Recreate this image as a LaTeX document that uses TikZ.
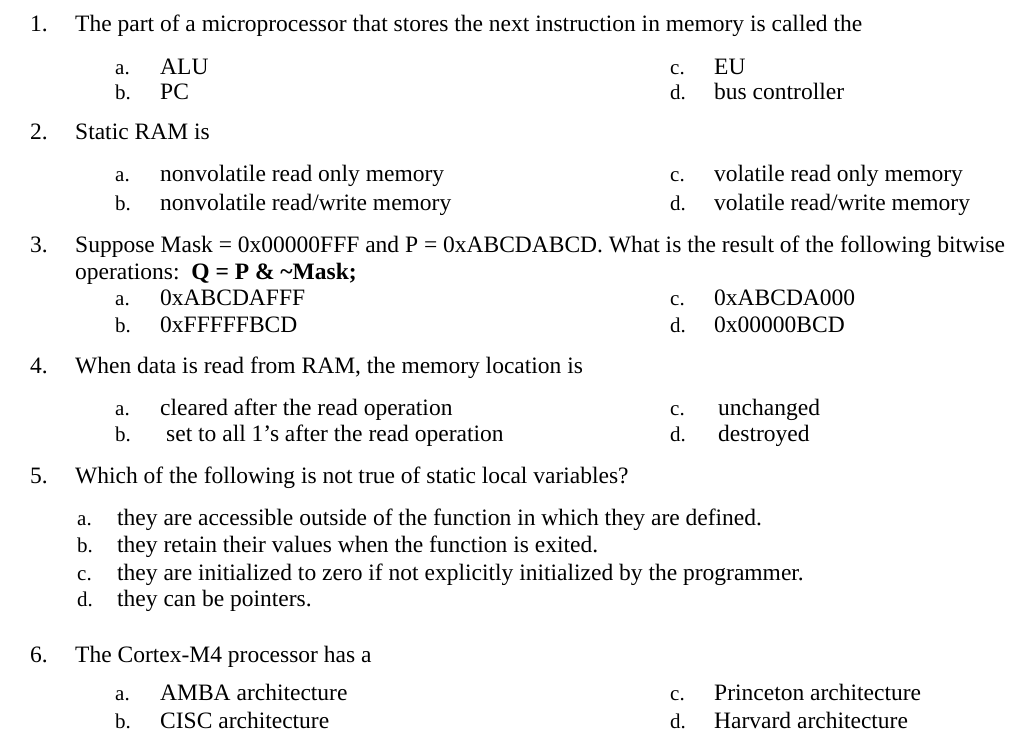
\documentclass[tikz,border=0pt]{standalone}
\usepackage{fontspec}
\setmainfont{Liberation Serif}
\begin{document}
\begin{tikzpicture}[x=1pt,y=-1pt,
 t/.style={anchor=base west,inner sep=0pt,font=\fontsize{23.5}{27}\selectfont},
 l/.style={t,font=\fontsize{21}{24}\selectfont}]
\useasboundingbox (0,0) rectangle (1032,746);
\fill[white] (0,0) rectangle (1032,746);
% Q1
\node[t] (n1) at (30,32) {1.};
\node[t] (q1) at (75,32) {The part of a microprocessor that stores the next instruction in memory is called the};
\node[l] (a1) at (115,75) {a.}; \node[t] (a1t) at (160,75) {ALU};
\node[l] (b1) at (115,100) {b.}; \node[t] (b1t) at (160,100) {PC};
\node[l] (c1) at (670,75) {c.}; \node[t] (c1t) at (714,75) {EU};
\node[l] (d1) at (670,100) {d.}; \node[t] (d1t) at (714,100) {bus controller};
% Q2
\node[t] (n2) at (30,140) {2.};
\node[t] (q2) at (75,140) {Static RAM is};
\node[l] (a2) at (115,182) {a.}; \node[t] (a2t) at (160,182) {nonvolatile read only memory};
\node[l] (b2) at (115,210) {b.}; \node[t] (b2t) at (160,210) {nonvolatile read/write memory};
\node[l] (c2) at (670,182) {c.}; \node[t] (c2t) at (714,182) {volatile read only memory};
\node[l] (d2) at (670,210) {d.}; \node[t] (d2t) at (714,210) {volatile read/write memory};
% Q3
\node[t] (n3) at (30,252) {3.};
\node[t] (q3) at (75,252) {Suppose Mask = 0x00000FFF and P = 0xABCDABCD. What is the result of the following bitwise};
\node[t] (q3b) at (75,279) {operations:\ \ \textbf{Q = P \& \char`\~Mask;}};
\node[l] (a3) at (115,305) {a.}; \node[t] (a3t) at (160,305) {0xABCDAFFF};
\node[l] (b3) at (115,332) {b.}; \node[t] (b3t) at (160,332) {0xFFFFFBCD};
\node[l] (c3) at (670,305) {c.}; \node[t] (c3t) at (714,305) {0xABCDA000};
\node[l] (d3) at (670,332) {d.}; \node[t] (d3t) at (714,332) {0x00000BCD};
% Q4
\node[t] (n4) at (30,373) {4.};
\node[t] (q4) at (75,373) {When data is read from RAM, the memory location is};
\node[l] (a4) at (115,415) {a.}; \node[t] (a4t) at (160,415) {cleared after the read operation};
\node[l] (b4) at (115,441) {b.}; \node[t] (b4t) at (166,441) {set to all 1's after the read operation};
\node[l] (c4) at (670,415) {c.}; \node[t] (c4t) at (718,415) {unchanged};
\node[l] (d4) at (670,441) {d.}; \node[t] (d4t) at (718,441) {destroyed};
% Q5
\node[t] (n5) at (30,483) {5.};
\node[t] (q5) at (75,483) {Which of the following is not true of static local variables?};
\node[l] (a5) at (77,525) {a.}; \node[t] (a5t) at (117,525) {they are accessible outside of the function in which they are defined.};
\node[l] (b5) at (77,552) {b.}; \node[t] (b5t) at (117,552) {they retain their values when the function is exited.};
\node[l] (c5) at (77,580) {c.}; \node[t] (c5t) at (117,580) {they are initialized to zero if not explicitly initialized by the programmer.};
\node[l] (d5) at (77,606) {d.}; \node[t] (d5t) at (117,606) {they can be pointers.};
% Q6
\node[t] (n6) at (30,662) {6.};
\node[t] (q6) at (75,662) {The Cortex-M4 processor has a};
\node[l] (a6) at (115,700) {a.}; \node[t] (a6t) at (160,700) {AMBA architecture};
\node[l] (b6) at (115,728) {b.}; \node[t] (b6t) at (160,728) {CISC architecture};
\node[l] (c6) at (670,700) {c.}; \node[t] (c6t) at (714,700) {Princeton architecture};
\node[l] (d6) at (670,728) {d.}; \node[t] (d6t) at (714,728) {Harvard architecture};
\end{tikzpicture}
\end{document}
